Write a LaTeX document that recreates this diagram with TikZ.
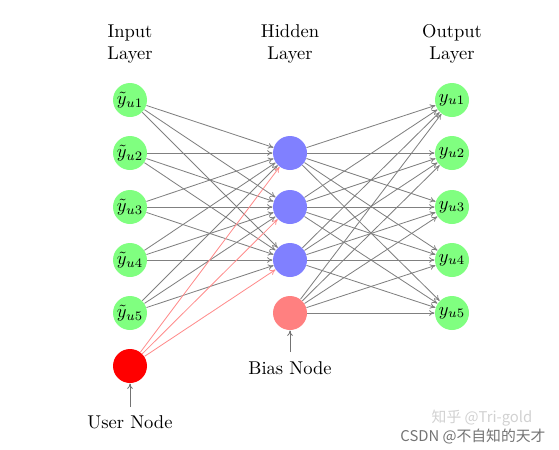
\documentclass[tikz,border=0pt]{standalone}
\usepackage{fontspec}
\usetikzlibrary{arrows.meta}
\newfontfamily\cjk{Noto Sans CJK SC}
\begin{document}
\begin{tikzpicture}[x=0.54pt,y=-0.54pt,
  neuron/.style={circle,minimum size=34*0.54pt,inner sep=0pt},
  inp/.style={neuron,fill=green!50},
  hid/.style={neuron,fill=blue!50},
  bias/.style={neuron,fill=red!50},
  usr/.style={neuron,fill=red},
  conn/.style={-{To[length=3pt,width=3pt]},draw=black!50,line width=0.45pt},
  rconn/.style={-{To[length=3pt,width=3pt]},draw=red!45,line width=0.45pt},
  lbl/.style={align=center,font=\normalsize},
  ptr/.style={-{To[length=3pt,width=3pt]},draw=black!55,line width=0.45pt}]
\useasboundingbox (0,0) rectangle (559,450);
% layer titles
\node[lbl] (tin) at (130,44) {Input\\Layer};
\node[lbl] (thid) at (290,44) {Hidden\\Layer};
\node[lbl] (tout) at (452,44) {Output\\Layer};
% nodes
\foreach \i/\y in {1/100,2/153,3/207,4/260,5/313}{
  \node[inp] (i\i) at (130,\y) {$\tilde{y}_{u\i}$};
  \node[inp] (o\i) at (452,\y) {$y_{u\i}$};
}
\foreach \i/\y in {1/153,2/207,3/260}{
  \node[hid] (h\i) at (290,\y) {};
}
\node[bias] (b) at (290,313) {};
\node[usr] (u) at (130,366) {};
% connections
\foreach \i in {1,...,5}{
  \foreach \j in {1,2,3}{
    \draw[conn] (i\i) -- (h\j);
  }
}
\foreach \j in {1,2,3}{
  \draw[rconn] (u) -- (h\j);
}
\foreach \j in {1,2,3}{
  \foreach \k in {1,...,5}{
    \draw[conn] (h\j) -- (o\k);
  }
}
\foreach \k in {1,...,5}{
  \draw[conn] (b) -- (o\k);
}
% pointers and labels
\node[lbl] (bl) at (290,368) {Bias Node};
\coordinate (bls) at (290,352);
\draw[ptr] (bls) -- (b);
\node[lbl] (ul) at (130,422) {User Node};
\coordinate (uls) at (130,407);
\draw[ptr] (uls) -- (u);
% watermark
\node[text=black!18,font=\cjk\fontsize{8}{9}\selectfont] (wm1) at (482,418) {知乎 @Tri-gold};
\node[text=black!55,font=\cjk\fontsize{8}{9}\selectfont] (wm2) at (473,437) {CSDN @不自知的天才};
\end{tikzpicture}
\end{document}
